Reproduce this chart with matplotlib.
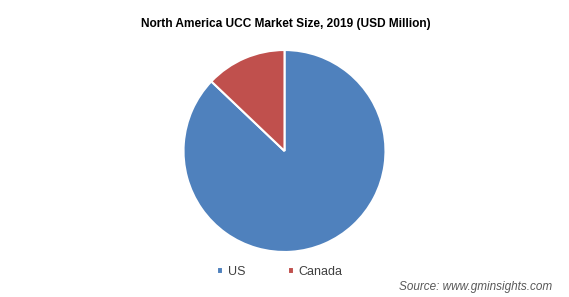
import matplotlib.pyplot as plt

plt.rcParams['font.family'] = ['Liberation Sans', 'DejaVu Sans']

countries = ['US', 'Canada']
shares = [87.1, 12.9]
colors = ['#4F81BD', '#C0504D']

fig = plt.figure(figsize=(5.69, 2.97), dpi=100)
ax = fig.add_axes([0.5 - 0.355 / 2, 0.4916 - 0.680 / 2, 0.355, 0.680])

wedges, _ = ax.pie(shares, colors=colors, startangle=90, counterclock=False,
                   wedgeprops=dict(edgecolor='white', linewidth=1.5))
ax.set_xlim(-1.0, 1.0)
ax.set_ylim(-1.0, 1.0)
ax.set_aspect('equal')

fig.text(0.502, 0.918, 'North America UCC Market Size, 2019 (USD Million)',
         ha='center', va='center', fontsize=8.6, fontweight='bold', color='black')

leg = fig.legend(wedges, countries, loc='center', bbox_to_anchor=(0.492, 0.085),
                 ncol=2, frameon=False, fontsize=9, handlelength=0.45,
                 handleheight=0.45, handletextpad=0.4, columnspacing=3.4,
                 labelcolor='#404040')

fig.text(0.97, 0.035, 'Source: www.gminsights.com', ha='right', va='center',
         fontsize=8.5, style='italic', color='#595959')

fig.savefig('out.png', dpi=100)
